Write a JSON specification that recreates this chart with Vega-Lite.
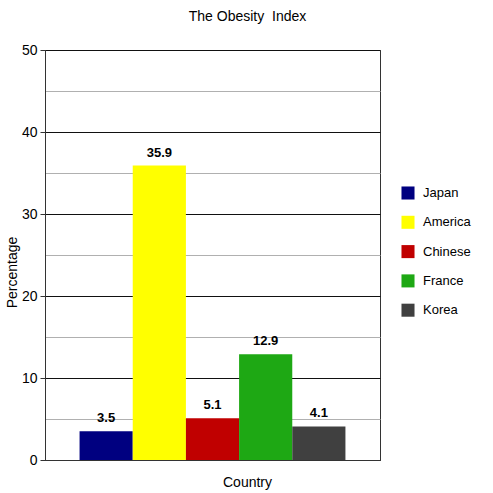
{
  "$schema": "https://vega.github.io/schema/vega-lite/v6.json",
  "autosize": "none",
  "width": 335,
  "height": 410,
  "padding": {"left": 45, "top": 50, "right": 113, "bottom": 33},
  "background": "white",
  "title": {"text": "The Obesity\u00a0 Index", "anchor": "middle", "dx": 35, "offset": 19, "fontSize": 14, "fontWeight": "normal", "font": "Liberation Sans", "color": "black"},
  "config": {
    "view": {"stroke": "#333", "strokeWidth": 1},
    "font": "Liberation Sans"
  },
  "data": {"values": [
    {"country": "Japan", "value": 3.5},
    {"country": "America", "value": 35.9},
    {"country": "Chinese", "value": 5.1},
    {"country": "France", "value": 12.9},
    {"country": "Korea", "value": 4.1}
  ]},
  "encoding": {
    "x": {"field": "country", "type": "nominal", "sort": null,
      "scale": {"paddingInner": 0, "paddingOuter": 0.65},
      "axis": {"title": "Country", "labels": false, "ticks": false, "domainColor": "#333", "titleFontSize": 14, "titleFontWeight": "normal", "titleColor": "black", "titleX": 202, "titleY": 22, "titleBaseline": "middle"}},
    "y": {"field": "value", "type": "quantitative",
      "scale": {"domain": [0, 50]},
      "axis": {"title": "Percentage", "values": [0,5,10,15,20,25,30,35,40,45,50],
        "labelExpr": "datum.value % 10 === 0 ? datum.label : ''",
        "grid": true,
        "gridColor": {"condition": {"test": "datum.value % 10 === 0", "value": "#111"}, "value": "#b0b0b0"},
        "tickOpacity": {"condition": {"test": "datum.value % 10 === 0", "value": 1}, "value": 0},
        "tickColor": "#333", "tickSize": 5, "domainColor": "#333",
        "labelFontSize": 14, "labelColor": "black", "labelPadding": 3,
        "titleFontSize": 14, "titleFontWeight": "normal", "titleColor": "black",
        "titleX": -33, "titleY": 222, "titleBaseline": "middle"}}
  },
  "layer": [
    {"mark": {"type": "bar"},
     "encoding": {
       "color": {"field": "country", "type": "nominal", "sort": null,
         "scale": {"domain": ["Japan", "America", "Chinese", "France", "Korea"], "range": ["#000080", "#ffff00", "#c00000", "#1ea814", "#404040"]},
         "legend": {"title": null, "orient": "none", "legendX": 356, "legendY": 136, "symbolType": "square", "symbolSize": 170, "symbolStrokeWidth": 0, "symbolOpacity": 1, "labelFontSize": 13, "labelColor": "black", "rowPadding": 15.3, "labelOffset": 8}}
     }},
    {"mark": {"type": "text", "dy": -13, "fontSize": 13, "fontWeight": "bold", "color": "black"},
     "encoding": {"text": {"field": "value", "type": "quantitative", "format": ".1f"}}}
  ]
}
